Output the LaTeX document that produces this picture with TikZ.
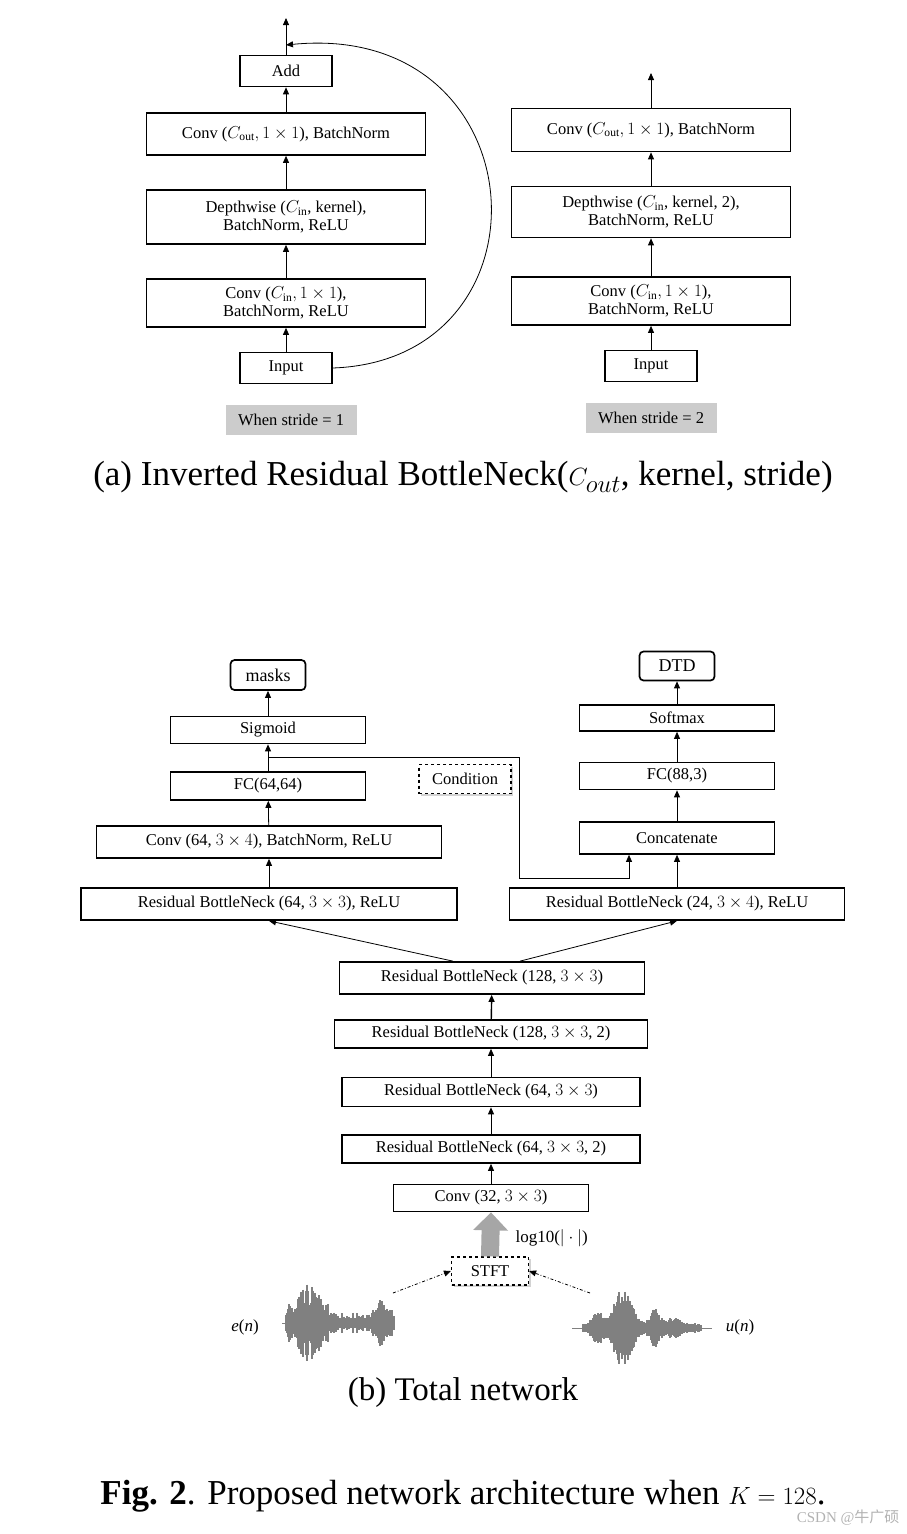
\documentclass[tikz,border=0pt]{standalone}
\usepackage{fontspec}
\setmainfont{Liberation Serif}
\newfontfamily\cjkfont{Noto Sans CJK SC}
\usepackage{amsmath}
\usetikzlibrary{positioning, arrows.meta, calc, shadows}

\tikzset{
  blk/.style={draw, line width=1.7pt, minimum height=#1, inner sep=0pt, font=\fontsize{16.5}{18}\selectfont, align=center},
  blk/.default=28pt,
  tag/.style={fill=gray!40, inner sep=0pt, font=\fontsize{16.5}{18}\selectfont},
  dashbox/.style={draw, dashed, line width=1.2pt, fill=white, inner sep=0pt, drop shadow={opacity=0.35, shadow xshift=2pt, shadow yshift=-2pt}, font=\fontsize{16.5}{18}\selectfont},
  arr/.style={-{Triangle[length=7pt,width=6pt]}, line width=0.8pt},
  wave/.style={draw=gray, line width=1.1pt}
}

\begin{document}
\begin{tikzpicture}[x=1pt, y=-1pt]
    \useasboundingbox (0,0) rectangle (906,1534);

    % (a) stride 1
    \node[blk, minimum width=92pt, minimum height=31pt] (add) at (286,71) {Add};
    \node[blk, minimum width=279pt, minimum height=42pt] (cout1) at (286,134) {Conv ($C_{\mathrm{out}}, 1\times 1$), BatchNorm};
    \node[blk, minimum width=279pt, minimum height=54pt] (dw1) at (286,217) {Depthwise ($C_{\mathrm{in}}$, kernel),\\BatchNorm, ReLU};
    \node[blk, minimum width=279pt, minimum height=48pt] (cin1) at (286,303) {Conv ($C_{\mathrm{in}}, 1\times 1$),\\BatchNorm, ReLU};
    \node[blk, minimum width=92pt, minimum height=31pt] (in1) at (286,368) {Input};
    \coordinate (out1) at (286,18);
    \coordinate (loop1) at (286,45);
    \draw[arr] (in1) -- (cin1);
    \draw[arr] (cin1) -- (dw1);
    \draw[arr] (dw1) -- (cout1);
    \draw[arr] (cout1) -- (add);
    \draw[arr] (add) -- (out1);
    \draw[arr] (in1.east) .. controls (560,360) and (540,20) .. (loop1);
    \node[tag, minimum width=131pt, minimum height=30pt] (t1) at (291,420) {When stride = 1};

    % (a) stride 2
    \node[blk, minimum width=279pt, minimum height=43pt] (cout2) at (651,130) {Conv ($C_{\mathrm{out}}, 1\times 1$), BatchNorm};
    \node[blk, minimum width=279pt, minimum height=51pt] (dw2) at (651,212) {Depthwise ($C_{\mathrm{in}}$, kernel, 2),\\BatchNorm, ReLU};
    \node[blk, minimum width=279pt, minimum height=48pt] (cin2) at (651,301) {Conv ($C_{\mathrm{in}}, 1\times 1$),\\BatchNorm, ReLU};
    \node[blk, minimum width=92pt, minimum height=31pt] (in2) at (651,366) {Input};
    \coordinate (out2) at (651,73);
    \draw[arr] (in2) -- (cin2);
    \draw[arr] (cin2) -- (dw2);
    \draw[arr] (dw2) -- (cout2);
    \draw[arr] (cout2) -- (out2);
    \node[tag, minimum width=131pt, minimum height=30pt] (t2) at (651,418) {When stride = 2};

    \node[font=\fontsize{35}{40}\selectfont] (capa) at (463,477) {(a) Inverted Residual BottleNeck($C_{out}$, kernel, stride)};

    % (b) left branch
    \node[blk, rounded corners=4pt, minimum width=75pt, minimum height=30pt, font=\fontsize{18}{20}\selectfont] (masks) at (268,675) {masks};
    \node[blk, minimum width=195pt, minimum height=27pt] (sig) at (268,730) {Sigmoid};
    \node[blk, minimum width=195pt, minimum height=28pt] (fc1) at (268,786) {FC(64,64)};
    \node[blk, minimum width=345pt, minimum height=32pt] (conv64) at (269,842) {Conv (64, $3\times 4$), BatchNorm, ReLU};
    \node[blk, minimum width=376pt, minimum height=32pt] (rbl) at (269,904) {Residual BottleNeck (64, $3\times 3$), ReLU};
    \draw[arr] (rbl) -- (conv64);
    \draw[arr] (conv64) -- (fc1);
    \draw[arr] (fc1) -- (sig);
    \draw[arr] (sig) -- (masks);
    \node[dashbox, minimum width=92pt, minimum height=29pt] (cond) at (465,779) {Condition};

    % (b) right branch
    \node[blk, rounded corners=4pt, minimum width=75pt, minimum height=29pt, font=\fontsize{18}{20}\selectfont] (dtd) at (677,666) {DTD};
    \node[blk, minimum width=195pt, minimum height=26pt] (soft) at (677,718) {Softmax};
    \node[blk, minimum width=195pt, minimum height=27pt] (fc2) at (677,776) {FC(88,3)};
    \node[blk, minimum width=195pt, minimum height=32pt] (cat) at (677,838) {Concatenate};
    \node[blk, minimum width=335pt, minimum height=32pt] (rbr) at (677,904) {Residual BottleNeck (24, $3\times 4$), ReLU};
    \draw[arr] (rbr) -- (cat);
    \draw[arr] (cat) -- (fc2);
    \draw[arr] (fc2) -- (soft);
    \draw[arr] (soft) -- (dtd);
    \coordinate (tap) at ($(fc1.north)!0.5!(sig.south)$);
    \draw[arr] (tap) -| (519,878) -| ([xshift=-48pt]cat.south);

    % (b) trunk
    \node[blk, minimum width=305pt, minimum height=32pt] (rb1) at (492,978) {Residual BottleNeck (128, $3\times 3$)};
    \node[blk, minimum width=313pt, minimum height=28pt] (rb2) at (491,1034) {Residual BottleNeck (128, $3\times 3$, 2)};
    \node[blk, minimum width=298pt, minimum height=29pt] (rb3) at (491,1092) {Residual BottleNeck (64, $3\times 3$)};
    \node[blk, minimum width=298pt, minimum height=28pt] (rb4) at (491,1149) {Residual BottleNeck (64, $3\times 3$, 2)};
    \node[blk, minimum width=195pt, minimum height=27pt] (c32) at (491,1198) {Conv (32, $3\times 3$)};
    \node[dashbox, minimum width=77pt, minimum height=28pt] (stft) at (490,1271) {STFT};
    \draw[arr] (c32) -- (rb4);
    \draw[arr] (rb4) -- (rb3);
    \draw[arr] (rb3) -- (rb2);
    \draw[arr, line width=1.4pt] (rb2) -- (rb1);
    \draw[arr] ([xshift=-39pt]rb1.north) -- (rbl.south);
    \draw[arr] ([xshift=28pt]rb1.north) -- (rbr.south);
    \draw[-{Triangle[length=18pt,width=34pt]}, line width=18pt, draw=gray!70] (stft.north) -- (c32.south);
    \node[anchor=west, font=\fontsize{17}{19}\selectfont] (logl) at (512,1238) {log10($|\cdot|$)};

    % waveforms
    \pgfmathsetseed{7}
    \coordinate (wl) at (393,1293);
    \coordinate (wr) at (590,1293);
    \draw[gray, line width=0.8pt] (282,1323) -- (393,1323);
    \foreach \i in {0,...,108} {
        \pgfmathsetmacro{\env}{6+28*exp(-((\i-22)/18)^2)+14*exp(-((\i-95)/8)^2)+6*rnd}
        \pgfmathsetmacro{\h}{\env*(0.4+0.6*rnd)}
        \draw[wave] (286+\i,1323-\h) -- (286+\i,1323+\h);
    }
    \draw[gray, line width=0.8pt] (572,1328) -- (712,1328);
    \foreach \i in {0,...,118} {
        \pgfmathsetmacro{\env}{3+36*exp(-((\i-40)/12)^2)+14*exp(-((\i-14)/6)^2)+16*exp(-((\i-72)/6)^2)+8*exp(-((\i-92)/10)^2)+2*rnd}
        \pgfmathsetmacro{\h}{\env*(0.6+0.4*rnd)}
        \draw[wave] (583+\i,1328-\h) -- (583+\i,1328+\h);
    }
    \draw[arr, dash dot] (wl) -- (stft.west);
    \draw[arr, dash dot] (wr) -- (stft.east);
    \node[font=\itshape\fontsize{17}{19}\selectfont] (en) at (245,1327) {e\textup{(}n\textup{)}};
    \node[font=\itshape\fontsize{17}{19}\selectfont] (un) at (740,1327) {u\textup{(}n\textup{)}};

    \node[font=\fontsize{33}{38}\selectfont] (capb) at (463,1393) {(b) Total network};
    \node[font=\fontsize{35}{40}\selectfont] (fig) at (463,1496) {\textbf{Fig. 2}. Proposed network architecture when $K=128$.};
    \node[anchor=east, text=gray!60, font=\fontsize{15}{17}\selectfont] (wm) at (903,1518) {CSDN @{\cjkfont 牛广硕}};
\end{tikzpicture}
\end{document}
